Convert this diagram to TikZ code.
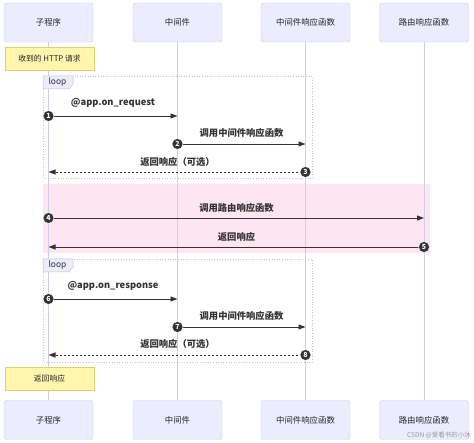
\documentclass[tikz,border=0pt]{standalone}
\usepackage{fontspec}
\setmainfont{Noto Sans CJK SC}
\usetikzlibrary{arrows.meta}
\definecolor{actfill}{HTML}{ECECFF}
\definecolor{actline}{HTML}{D0CCF0}
\definecolor{notefill}{HTML}{FFF5AD}
\definecolor{noteline}{HTML}{D8D27A}
\definecolor{rectfill}{HTML}{FDE6EF}
\definecolor{loopline}{HTML}{C4C4C4}
\definecolor{msgc}{HTML}{333333}
\tikzset{
  actor/.style={draw=actline, fill=actfill, rounded corners=2.5pt, minimum width=89pt, minimum height=39pt, inner sep=0pt, font=\fontsize{8.4}{9}\selectfont, text=black!85},
  lifeline/.style={draw=actline, line width=0.8pt},
  notebox/.style={draw=noteline, fill=notefill, minimum width=89pt, minimum height=23pt, inner sep=0pt, font=\fontsize{7.8}{9}\selectfont, text=black!85},
  loopframe/.style={draw=loopline, dotted, line width=0.6pt},
  msg/.style={draw=msgc, line width=0.9pt, -{Triangle[length=7pt,width=5pt]}},
  ret/.style={msg, dash pattern=on 2pt off 2pt},
  msglabel/.style={font=\bfseries\fontsize{9.3}{10}\selectfont, text=msgc, inner sep=0pt},
  numc/.style={circle, fill=msgc, draw=white, line width=0.5pt, minimum size=11pt, inner sep=0pt, text=white, font=\bfseries\fontsize{7}{7}\selectfont},
}
\begin{document}
\begin{tikzpicture}[x=1pt,y=-1pt]
\useasboundingbox (0,0) rectangle (474,443);
% pink rect
\fill[rectfill] (43,184) rectangle (430,253);
% actors
\node[actor] (a1t) at (48.5,22.5) {子程序};
\node[actor] (a2t) at (177.5,22.5) {中间件};
\node[actor] (a3t) at (305.5,22.5) {中间件响应函数};
\node[actor] (a4t) at (424,22.5) {路由响应函数};
\node[actor] (a1b) at (48.5,420) {子程序};
\node[actor] (a2b) at (177.5,420) {中间件};
\node[actor] (a3b) at (305.5,420) {中间件响应函数};
\node[actor] (a4b) at (424,420) {路由响应函数};
% lifelines
\draw[lifeline] (a1t.south) -- (a1b.north);
\draw[lifeline] (a2t.south) -- (a2b.north);
\draw[lifeline] (a3t.south) -- (a3b.north);
\draw[lifeline] (a4t.south) -- (a4b.north);
% notes
\node[notebox] (nt1) at (49.5,59) {收到的 HTTP 请求};
\node[notebox] (nt2) at (49.5,378.5) {返回响应};
% loop frames
\draw[loopframe] (43,76) rectangle (312,178);
\filldraw[draw=loopline, fill=actfill, line width=0.5pt] (43,76) -- (73,76) -- (73,84) -- (69,89) -- (43,89) -- cycle;
\node[font=\fontsize{8.4}{9}\selectfont, text=black!80, inner sep=0pt] (lp1) at (57.5,82.5) {loop};
\draw[loopframe] (43,259) rectangle (312,362);
\filldraw[draw=loopline, fill=actfill, line width=0.5pt] (43,259) -- (73,259) -- (73,267) -- (69,272) -- (43,272) -- cycle;
\node[font=\fontsize{8.4}{9}\selectfont, text=black!80, inner sep=0pt] (lp2) at (57.5,265.5) {loop};
% message coordinates
\coordinate (m1a) at (a1t.south |- 0,116); \coordinate (m1b) at (a2t.south |- 0,116);
\coordinate (m2a) at (a2t.south |- 0,144); \coordinate (m2b) at (a3t.south |- 0,144);
\coordinate (m3a) at (a3t.south |- 0,172); \coordinate (m3b) at (a1t.south |- 0,172);
\coordinate (m4a) at (a1t.south |- 0,218); \coordinate (m4b) at (a4t.south |- 0,218);
\coordinate (m5a) at (a4t.south |- 0,247); \coordinate (m5b) at (a1t.south |- 0,247);
\coordinate (m6a) at (a1t.south |- 0,299); \coordinate (m6b) at (a2t.south |- 0,299);
\coordinate (m7a) at (a2t.south |- 0,327); \coordinate (m7b) at (a3t.south |- 0,327);
\coordinate (m8a) at (a3t.south |- 0,355); \coordinate (m8b) at (a1t.south |- 0,355);
% messages
\draw[msg] (m1a) -- (m1b);
\draw[msg] (m2a) -- (m2b);
\draw[ret] (m3a) -- (m3b);
\draw[msg] (m4a) -- (m4b);
\draw[msg] (m5a) -- (m5b);
\draw[msg] (m6a) -- (m6b);
\draw[msg] (m7a) -- (m7b);
\draw[ret] (m8a) -- (m8b);
% labels
\node[msglabel] (l1) at (113,103) {@app.on\_request};
\node[msglabel] (l2) at (241.5,133) {调用中间件响应函数};
\node[msglabel] (l3) at (177.5,161.5) {返回响应（可选）};
\node[msglabel] (l4) at (236.5,207.5) {调用路由响应函数};
\node[msglabel] (l5) at (236.5,236.5) {返回响应};
\node[msglabel] (l6) at (113,286) {@app.on\_response};
\node[msglabel] (l7) at (241.5,316) {调用中间件响应函数};
\node[msglabel] (l8) at (177.5,344) {返回响应（可选）};
% numbers
\node[numc] (n1) at (m1a) {1};
\node[numc] (n2) at (m2a) {2};
\node[numc] (n3) at (m3a) {3};
\node[numc] (n4) at (m4a) {4};
\node[numc] (n5) at (m5a) {5};
\node[numc] (n6) at (m6a) {6};
\node[numc] (n7) at (m7a) {7};
\node[numc] (n8) at (m8a) {8};
% watermark
\node[font=\fontsize{6.5}{7}\selectfont, text=black!40, anchor=east, inner sep=0pt] (wm) at (471,435.5) {CSDN @爱看书的小沐};
\end{tikzpicture}
\end{document}
